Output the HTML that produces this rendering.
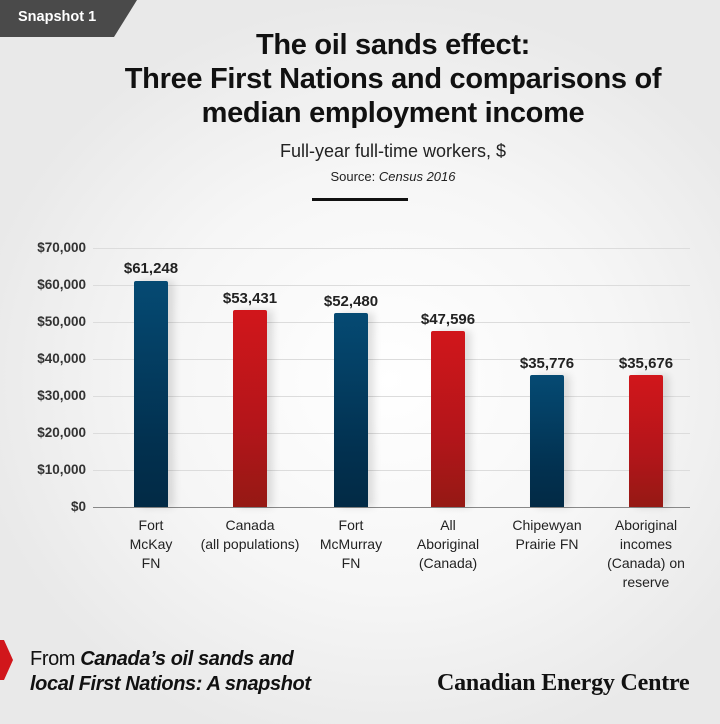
<!DOCTYPE html>
<html><head><meta charset="utf-8"><style>
body{margin:0}
#c{position:relative;width:720px;height:724px;overflow:hidden;font-family:"Liberation Sans",sans-serif;
background:radial-gradient(ellipse 420px 380px at 390px 380px,#ffffff 0%,#f6f6f6 55%,#e9e9e9 100%);}
.t{position:absolute;white-space:nowrap}
.grid{position:absolute;left:93px;width:597px;height:1px;background:#dcdcdc}
.yl{position:absolute;left:0;width:86px;text-align:right;font-size:13.5px;color:#333;font-weight:bold}
.bar{position:absolute;width:34px;border-radius:2px 2px 0 0;box-shadow:6px 0 8px rgba(0,0,0,0.12)}
.b{background:linear-gradient(#054a73,#023150 70%,#022a45)}
.r{background:linear-gradient(#d1161b,#b3151a 60%,#951914)}
.vl{position:absolute;width:120px;text-align:center;font-size:15px;font-weight:bold;color:#222}
.xl{position:absolute;width:120px;text-align:center;font-size:14px;line-height:19px;color:#222}
</style></head><body><div id="c">
<svg style="position:absolute;left:0;top:0" width="140" height="38"><polygon points="0,0 137,0 114,37 0,37" fill="#4a4a4a"/></svg>
<div class="t" style="left:18px;top:9px;color:#fff;font-size:14.5px;font-weight:bold">Snapshot 1</div>
<div class="t" style="left:0;width:786px;text-align:center;top:28px;font-size:29px;font-weight:bold;line-height:34px;color:#111;letter-spacing:-0.3px">The oil sands effect:<br>Three First Nations and comparisons of<br>median employment income</div>
<div class="t" style="left:0;width:786px;text-align:center;top:141px;font-size:18px;color:#222">Full-year full-time workers, $</div>
<div class="t" style="left:0;width:786px;text-align:center;top:169px;font-size:13px;color:#222">Source: <i>Census 2016</i></div>
<div style="position:absolute;left:312px;top:198px;width:96px;height:3px;background:#111"></div>

<div class="grid" style="top:248px"></div><div class="grid" style="top:285px"></div><div class="grid" style="top:322px"></div><div class="grid" style="top:359px"></div><div class="grid" style="top:396px"></div><div class="grid" style="top:433px"></div><div class="grid" style="top:470px"></div>
<div class="grid" style="top:507px;background:#888"></div>
<div class="yl" style="top:240px">$70,000</div><div class="yl" style="top:277px">$60,000</div><div class="yl" style="top:314px">$50,000</div><div class="yl" style="top:351px">$40,000</div><div class="yl" style="top:388px">$30,000</div><div class="yl" style="top:425px">$20,000</div><div class="yl" style="top:462px">$10,000</div><div class="yl" style="top:499px">$0</div>

<div class="bar b" style="left:134px;top:281px;height:226px"></div>
<div class="bar r" style="left:233px;top:310px;height:197px"></div>
<div class="bar b" style="left:334px;top:313px;height:194px"></div>
<div class="bar r" style="left:431px;top:331px;height:176px"></div>
<div class="bar b" style="left:530px;top:375px;height:132px"></div>
<div class="bar r" style="left:629px;top:375px;height:132px"></div>

<div class="vl" style="left:91px;top:260px">$61,248</div>
<div class="vl" style="left:190px;top:290px">$53,431</div>
<div class="vl" style="left:291px;top:293px">$52,480</div>
<div class="vl" style="left:388px;top:311px">$47,596</div>
<div class="vl" style="left:487px;top:355px">$35,776</div>
<div class="vl" style="left:586px;top:355px">$35,676</div>

<div class="xl" style="left:91px;top:516px">Fort<br>McKay<br>FN</div>
<div class="xl" style="left:190px;top:516px">Canada<br>(all populations)</div>
<div class="xl" style="left:291px;top:516px">Fort<br>McMurray<br>FN</div>
<div class="xl" style="left:388px;top:516px">All<br>Aboriginal<br>(Canada)</div>
<div class="xl" style="left:487px;top:516px">Chipewyan<br>Prairie FN</div>
<div class="xl" style="left:586px;top:516px">Aboriginal<br>incomes<br>(Canada) on<br>reserve</div>

<svg style="position:absolute;left:0;top:640px" width="16" height="42"><polygon points="0,0 4,0 13,20 4,40 0,40" fill="#d1161b"/></svg>
<div class="t" style="left:30px;top:647px;font-size:20px;line-height:25px;color:#111;letter-spacing:-0.4px">From <b><i>Canada’s oil sands and</i></b><br><b><i>local First Nations: A snapshot</i></b></div>
<div class="t" style="left:437px;top:670px;font-family:'Liberation Serif',serif;font-weight:bold;font-size:24px;color:#111;letter-spacing:-0.2px">Canadian Energy Centre</div>
</div></body></html>
